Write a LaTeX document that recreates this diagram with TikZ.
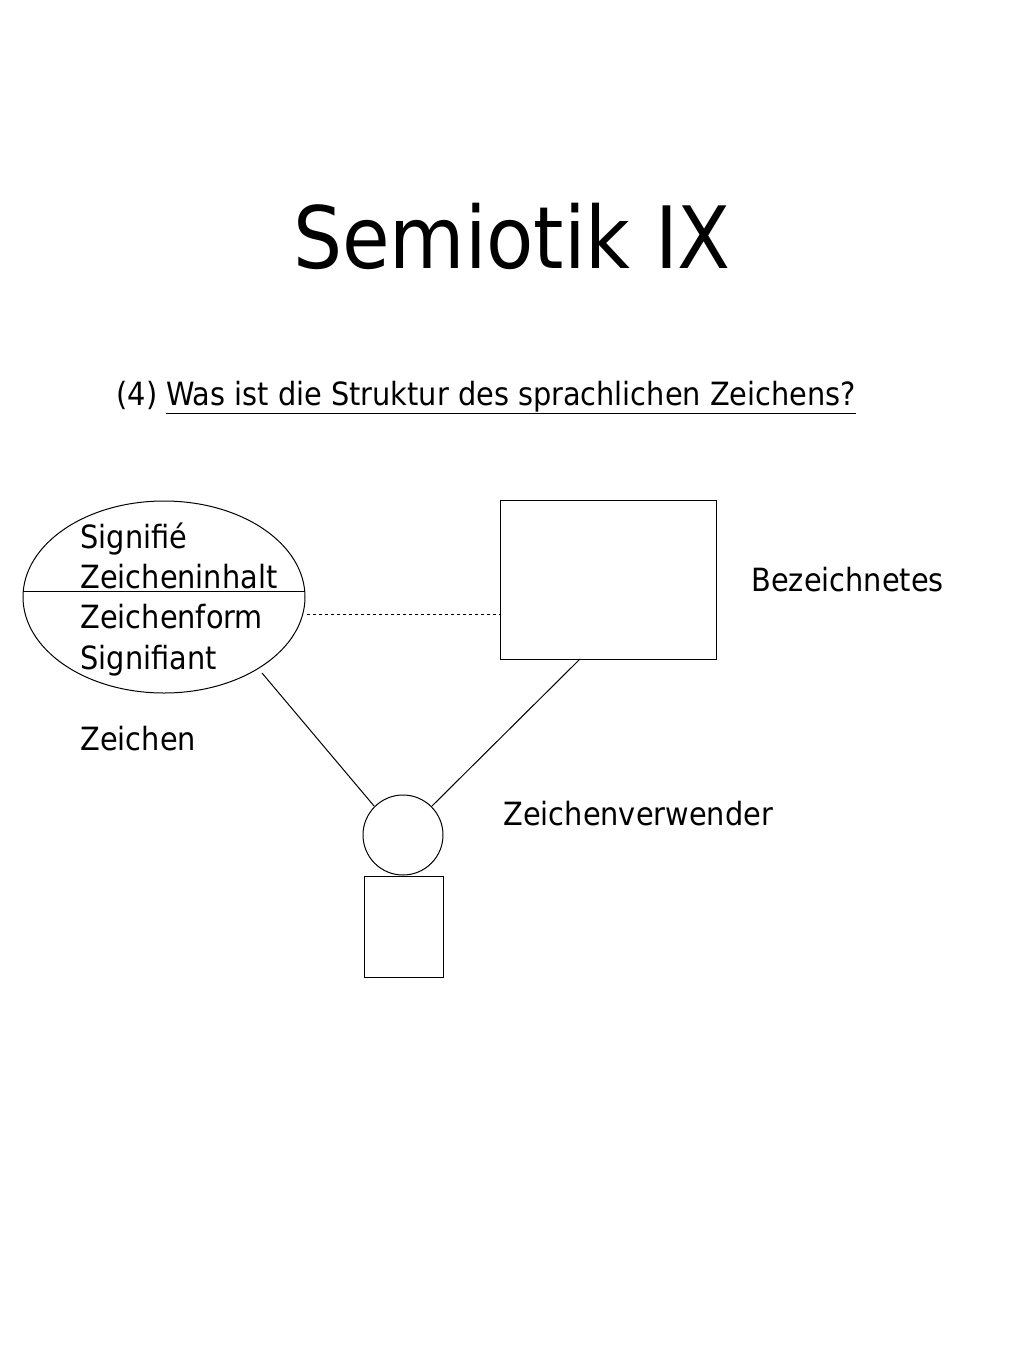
\documentclass[tikz,border=0pt]{standalone}
\usepackage{fontspec}
\setmainfont{DejaVu Sans Condensed}
\begin{document}
\begin{tikzpicture}[x=1pt,y=-1pt,line width=1pt,
 lbl/.style={anchor=base west,inner sep=0pt,font=\fontsize{32}{38}\selectfont}]
\useasboundingbox (0,0) rectangle (1024,1365);
\node[anchor=base,inner sep=0pt,font=\fontsize{86}{100}\selectfont] (title) at (512,268) {Semiotik IX};
\node[lbl] (sub) at (116,405) {(4) \underline{Was ist die Struktur des sprachlichen Zeichens?}};
\draw (164,597) ellipse [x radius=141,y radius=96];
\coordinate (el) at (23,591); \coordinate (er) at (305,591);
\draw (el) -- (er);
\node[draw,minimum width=216,minimum height=159,inner sep=0pt] (obj) at (608,579.5) {};
\node[draw,circle,minimum size=80,inner sep=0pt] (head) at (403,835) {};
\node[draw,minimum width=79,minimum height=101,inner sep=0pt] (body) at (403.5,926.5) {};
\coordinate (ed) at (307,614); \coordinate (ea) at (262,673);
\draw[dashed] (ed) -- (obj.west |- ed);
\draw (ea) -- (head.135);
\coordinate (ob) at (580,659);
\draw (ob) -- (head.45);
\node[lbl] (t1) at (80,548) {Signifié};
\node[lbl] (t2) at (80,588) {Zeicheninhalt};
\node[lbl] (t3) at (80,628) {Zeichenform};
\node[lbl] (t4) at (80,669) {Signifiant};
\node[lbl] (t5) at (80,750) {Zeichen};
\node[lbl] (t6) at (751,591) {Bezeichnetes};
\node[lbl] (t7) at (503,825) {Zeichenverwender};
\end{tikzpicture}
\end{document}
